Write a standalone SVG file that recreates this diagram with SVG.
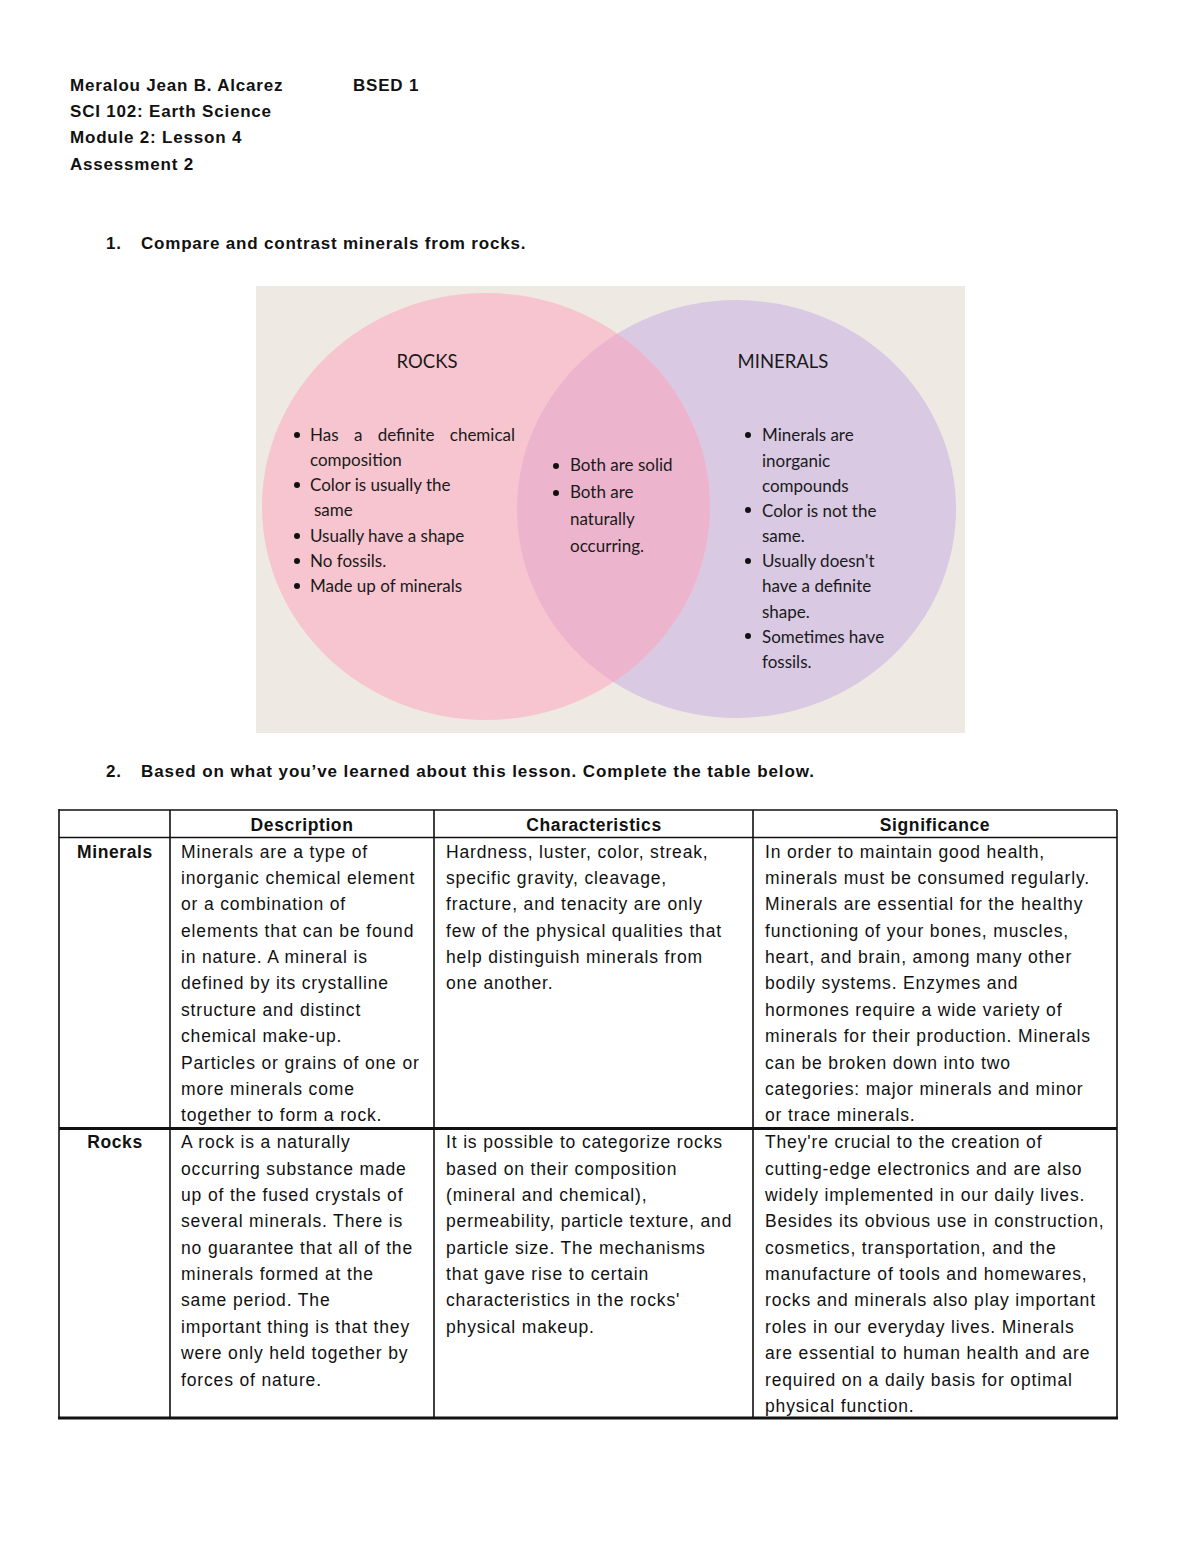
<svg xmlns="http://www.w3.org/2000/svg" width="1200" height="1553" viewBox="0 0 1200 1553">
<style>
.h{font-family:"Liberation Sans",Arial,sans-serif;font-weight:bold;font-size:17px;letter-spacing:0.8px;fill:#111}
.t{font-family:"Liberation Sans",Arial,sans-serif;font-size:17.5px;letter-spacing:0.85px;fill:#111}
.tb{font-family:"Liberation Sans",Arial,sans-serif;font-weight:bold;font-size:17.5px;letter-spacing:0.6px;fill:#111}
.v{font-family:Lato,"Liberation Sans",sans-serif;font-size:17px;fill:#1a1a1a}
.vt{font-family:Lato,"Liberation Sans",sans-serif;font-size:18.5px;fill:#1a1a1a}
.ln{stroke:#111;stroke-width:1.6;fill:none}
.lnb{stroke:#111;stroke-width:3;fill:none}
</style>
<defs>
<clipPath id="cl"><ellipse cx="486" cy="506.5" rx="224" ry="213.5"/></clipPath>
</defs>
<rect width="1200" height="1553" fill="#fff"/>
<g id="header">
<text class="h" x="70" y="91">Meralou Jean B. Alcarez</text>
<text class="h" x="353" y="91">BSED 1</text>
<text class="h" x="70" y="117">SCI 102: Earth Science</text>
<text class="h" x="70" y="143">Module 2: Lesson 4</text>
<text class="h" x="70" y="170">Assessment 2</text>
<text class="h" x="106" y="249">1.</text>
<text class="h" x="141" y="249">Compare and contrast minerals from rocks.</text>
<text class="h" x="106" y="777">2.</text>
<text class="h" x="141" y="777" style="letter-spacing:0.92px">Based on what you’ve learned about this lesson. Complete the table below.</text>
</g>
<g id="venn">
<rect x="256" y="286" width="709" height="447" fill="#EEEAE3"/>
<ellipse cx="736.5" cy="509" rx="219.5" ry="209" fill="#D9C9E3"/>
<ellipse cx="486" cy="506.5" rx="224" ry="213.5" fill="#F7C5CF"/>
<ellipse cx="736.5" cy="509" rx="219.5" ry="209" fill="#ECB5CD" clip-path="url(#cl)"/>
<text class="vt" x="427" y="368" text-anchor="middle">ROCKS</text>
<text class="vt" x="783" y="368" text-anchor="middle">MINERALS</text>
<g fill="#111">
<circle cx="297" cy="435" r="3"/><circle cx="297" cy="485" r="3"/><circle cx="297" cy="536" r="3"/><circle cx="297" cy="561" r="3"/><circle cx="297" cy="586" r="3"/>
<circle cx="556" cy="466" r="3"/><circle cx="556" cy="493" r="3"/>
<circle cx="748" cy="435" r="3"/><circle cx="748" cy="510" r="3"/><circle cx="748" cy="561" r="3"/><circle cx="748" cy="636" r="3"/>
</g>
<text class="v" x="310" y="441" word-spacing="11">Has a definite chemical</text>
<text class="v" x="310" y="466">composition</text>
<text class="v" x="310" y="491">Color is usually the</text>
<text class="v" x="314" y="516">same</text>
<text class="v" x="310" y="542">Usually have a shape</text>
<text class="v" x="310" y="567">No fossils.</text>
<text class="v" x="310" y="592">Made up of minerals</text>
<text class="v" x="570" y="471">Both are solid</text>
<text class="v" x="570" y="498">Both are</text>
<text class="v" x="570" y="525">naturally</text>
<text class="v" x="570" y="552">occurring.</text>
<text class="v" x="762" y="441">Minerals are</text>
<text class="v" x="762" y="467">inorganic</text>
<text class="v" x="762" y="492">compounds</text>
<text class="v" x="762" y="517">Color is not the</text>
<text class="v" x="762" y="542">same.</text>
<text class="v" x="762" y="567">Usually doesn't</text>
<text class="v" x="762" y="592">have a definite</text>
<text class="v" x="762" y="618">shape.</text>
<text class="v" x="762" y="643">Sometimes have</text>
<text class="v" x="762" y="668">fossils.</text>
</g>
<g id="table">
<path class="ln" d="M59 810H1117M59 837.5H1117M59 809V1419M170 810V1418M434 810V1418M753 810V1418M1117 810V1418"/>
<path class="lnb" d="M59 1128.5H1117M58 1418H1118"/>
<text class="tb" x="302" y="831" text-anchor="middle">Description</text>
<text class="tb" x="594" y="831" text-anchor="middle">Characteristics</text>
<text class="tb" x="935" y="831" text-anchor="middle">Significance</text>
<text class="tb" x="115" y="858" text-anchor="middle">Minerals</text>
<text class="tb" x="115" y="1148" text-anchor="middle">Rocks</text>
<g class="t">
<text x="181" y="858">Minerals are a type of</text>
<text x="181" y="884">inorganic chemical element</text>
<text x="181" y="910">or a combination of</text>
<text x="181" y="937">elements that can be found</text>
<text x="181" y="963">in nature. A mineral is</text>
<text x="181" y="989">defined by its crystalline</text>
<text x="181" y="1016">structure and distinct</text>
<text x="181" y="1042">chemical make-up.</text>
<text x="181" y="1069">Particles or grains of one or</text>
<text x="181" y="1095">more minerals come</text>
<text x="181" y="1121">together to form a rock.</text>
<text x="446" y="858">Hardness, luster, color, streak,</text>
<text x="446" y="884">specific gravity, cleavage,</text>
<text x="446" y="910">fracture, and tenacity are only</text>
<text x="446" y="937">few of the physical qualities that</text>
<text x="446" y="963">help distinguish minerals from</text>
<text x="446" y="989">one another.</text>
<text x="765" y="858">In order to maintain good health,</text>
<text x="765" y="884">minerals must be consumed regularly.</text>
<text x="765" y="910">Minerals are essential for the healthy</text>
<text x="765" y="937">functioning of your bones, muscles,</text>
<text x="765" y="963">heart, and brain, among many other</text>
<text x="765" y="989">bodily systems. Enzymes and</text>
<text x="765" y="1016">hormones require a wide variety of</text>
<text x="765" y="1042">minerals for their production. Minerals</text>
<text x="765" y="1069">can be broken down into two</text>
<text x="765" y="1095">categories: major minerals and minor</text>
<text x="765" y="1121">or trace minerals.</text>
<text x="181" y="1148">A rock is a naturally</text>
<text x="181" y="1175">occurring substance made</text>
<text x="181" y="1201">up of the fused crystals of</text>
<text x="181" y="1227">several minerals. There is</text>
<text x="181" y="1254">no guarantee that all of the</text>
<text x="181" y="1280">minerals formed at the</text>
<text x="181" y="1306">same period. The</text>
<text x="181" y="1333">important thing is that they</text>
<text x="181" y="1359">were only held together by</text>
<text x="181" y="1386">forces of nature.</text>
<text x="446" y="1148">It is possible to categorize rocks</text>
<text x="446" y="1175">based on their composition</text>
<text x="446" y="1201">(mineral and chemical),</text>
<text x="446" y="1227">permeability, particle texture, and</text>
<text x="446" y="1254">particle size. The mechanisms</text>
<text x="446" y="1280">that gave rise to certain</text>
<text x="446" y="1306">characteristics in the rocks'</text>
<text x="446" y="1333">physical makeup.</text>
<text x="765" y="1148">They're crucial to the creation of</text>
<text x="765" y="1175">cutting-edge electronics and are also</text>
<text x="765" y="1201">widely implemented in our daily lives.</text>
<text x="765" y="1227">Besides its obvious use in construction,</text>
<text x="765" y="1254">cosmetics, transportation, and the</text>
<text x="765" y="1280">manufacture of tools and homewares,</text>
<text x="765" y="1306">rocks and minerals also play important</text>
<text x="765" y="1333">roles in our everyday lives. Minerals</text>
<text x="765" y="1359">are essential to human health and are</text>
<text x="765" y="1386">required on a daily basis for optimal</text>
<text x="765" y="1412">physical function.</text>
</g>
</g>
</svg>
